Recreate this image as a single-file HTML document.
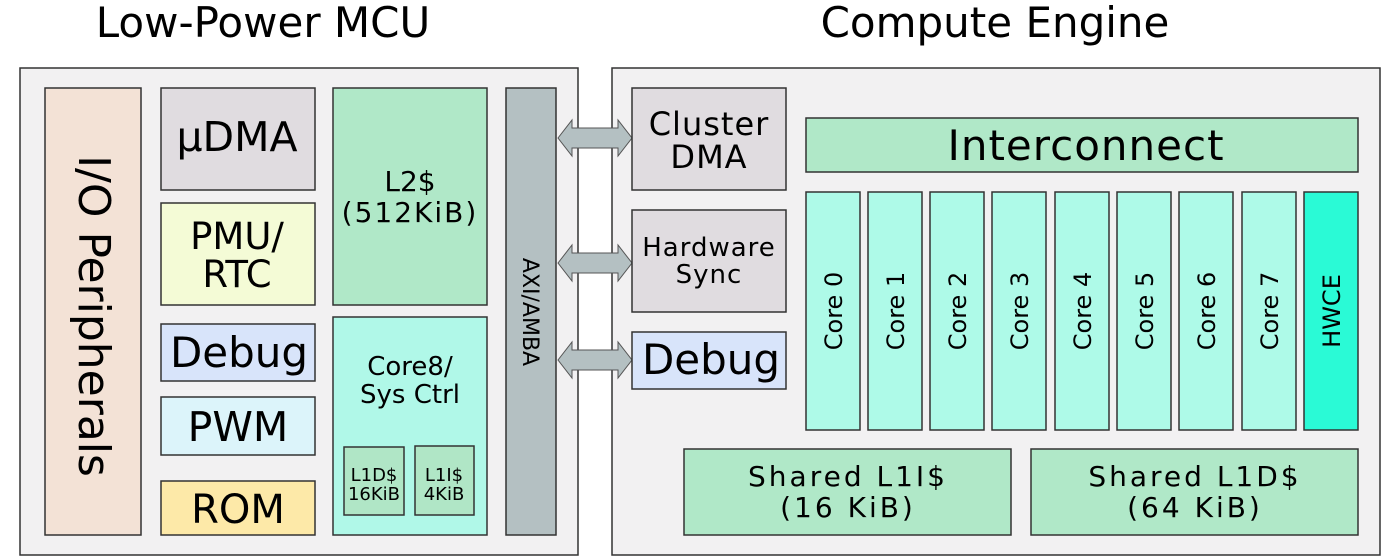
<!DOCTYPE html>
<html><head><meta charset="utf-8"><style>
body{margin:0;background:#fff}
svg{display:block}
text{font-family:"DejaVu Sans","Liberation Sans",sans-serif;fill:#000}
rect{stroke:#333;stroke-width:1.5}
</style></head><body>
<svg width="1400" height="559" viewBox="0 0 1400 559">
<text x="263" y="37" font-size="42" text-anchor="middle">Low-Power MCU</text>
<text x="995" y="37" font-size="42" text-anchor="middle">Compute Engine</text>
<rect x="20" y="68" width="558" height="487" fill="#f2f1f2"/>
<rect x="612" y="68" width="768" height="487" fill="#f2f1f2"/>
<!-- left -->
<rect x="45" y="88" width="96" height="447" fill="#f3e2d6"/>
<text transform="translate(79,316) rotate(90)" font-size="44" text-anchor="middle">I/O Peripherals</text>
<rect x="161" y="88" width="154" height="102" fill="#e0dce0"/>
<text x="237" y="151" font-size="41" text-anchor="middle">µDMA</text>
<rect x="161" y="203" width="154" height="102" fill="#f4fbd6"/>
<text x="237" y="249" font-size="37" text-anchor="middle">PMU/</text>
<text x="237" y="287" font-size="37" text-anchor="middle">RTC</text>
<rect x="161" y="324" width="154" height="57" fill="#d8e4fa"/>
<text x="239" y="367" font-size="42" text-anchor="middle">Debug</text>
<rect x="161" y="397" width="154" height="58" fill="#dcf4fa"/>
<text x="238" y="441" font-size="41" text-anchor="middle">PWM</text>
<rect x="161" y="481" width="154" height="54" fill="#fde9a8"/>
<text x="238" y="523" font-size="40" text-anchor="middle">ROM</text>
<rect x="333" y="88" width="154" height="217" fill="#b0e8c8"/>
<text x="410" y="191" font-size="28" text-anchor="middle">L2$</text>
<text x="410" y="222" font-size="28" text-anchor="middle" letter-spacing="2">(512KiB)</text>
<rect x="333" y="317" width="154" height="218" fill="#b0f8e8"/>
<text x="410" y="375" font-size="26" text-anchor="middle">Core8/</text>
<text x="410" y="403" font-size="26" text-anchor="middle">Sys Ctrl</text>
<rect x="344" y="447" width="60" height="68" fill="#b0e6c6" stroke-width="1"/>
<text x="374" y="481" font-size="18" text-anchor="middle">L1D$</text>
<text x="374" y="500" font-size="18" text-anchor="middle">16KiB</text>
<rect x="415" y="446" width="59" height="69" fill="#b0e6c6" stroke-width="1"/>
<text x="444" y="481" font-size="18" text-anchor="middle">L1I$</text>
<text x="444" y="500" font-size="18" text-anchor="middle">4KiB</text>
<rect x="506" y="88" width="50" height="447" fill="#b4c0c2"/>
<text transform="translate(523,312) rotate(90)" font-size="22" text-anchor="middle">AXI/AMBA</text>
<!-- arrows -->
<g fill="#b4c0c2" stroke="#555" stroke-width="1">
<path d="M558,138 L572,120 L572,128 L618,128 L618,120 L632,138 L618,156 L618,148 L572,148 L572,156 Z"/>
<path d="M558,263 L572,245 L572,253 L618,253 L618,245 L632,263 L618,281 L618,273 L572,273 L572,281 Z"/>
<path d="M558,360 L572,342 L572,350 L618,350 L618,342 L632,360 L618,378 L618,370 L572,370 L572,378 Z"/>
</g>
<!-- right -->
<rect x="632" y="88" width="154" height="102" fill="#e0dce0"/>
<text x="709" y="135" font-size="32" text-anchor="middle" letter-spacing="1">Cluster</text>
<text x="709" y="168" font-size="32" text-anchor="middle" letter-spacing="1">DMA</text>
<rect x="632" y="210" width="154" height="102" fill="#e0dce0"/>
<text x="709" y="256" font-size="26" text-anchor="middle" letter-spacing="1">Hardware</text>
<text x="709" y="283" font-size="26" text-anchor="middle" letter-spacing="1">Sync</text>
<rect x="632" y="332" width="154" height="57" fill="#d8e4fa"/>
<text x="711" y="374" font-size="42" text-anchor="middle">Debug</text>
<rect x="806" y="118" width="552" height="54" fill="#b0e8c8"/>
<text x="1086" y="160" font-size="42" text-anchor="middle" letter-spacing="1">Interconnect</text>
<g fill="#aefae8">
<rect x="806" y="192" width="54" height="238"/>
<rect x="868" y="192" width="54" height="238"/>
<rect x="930" y="192" width="54" height="238"/>
<rect x="992" y="192" width="54" height="238"/>
<rect x="1055" y="192" width="54" height="238"/>
<rect x="1117" y="192" width="54" height="238"/>
<rect x="1179" y="192" width="54" height="238"/>
<rect x="1242" y="192" width="54" height="238"/>
</g>
<rect x="1304" y="192" width="54" height="238" fill="#2afad6"/>
<g font-size="24" text-anchor="middle">
<text transform="translate(842,311) rotate(-90)">Core 0</text>
<text transform="translate(904,311) rotate(-90)">Core 1</text>
<text transform="translate(966,311) rotate(-90)">Core 2</text>
<text transform="translate(1028,311) rotate(-90)">Core 3</text>
<text transform="translate(1091,311) rotate(-90)">Core 4</text>
<text transform="translate(1153,311) rotate(-90)">Core 5</text>
<text transform="translate(1215,311) rotate(-90)">Core 6</text>
<text transform="translate(1278,311) rotate(-90)">Core 7</text>
<text transform="translate(1340,311) rotate(-90)">HWCE</text>
</g>
<rect x="684" y="449" width="327" height="86" fill="#b0e8c8"/>
<text x="848" y="486" font-size="28" text-anchor="middle" letter-spacing="3">Shared L1I$</text>
<text x="848" y="517" font-size="28" text-anchor="middle" letter-spacing="3">(16 KiB)</text>
<rect x="1031" y="449" width="327" height="86" fill="#b0e8c8"/>
<text x="1195" y="486" font-size="28" text-anchor="middle" letter-spacing="3">Shared L1D$</text>
<text x="1195" y="517" font-size="28" text-anchor="middle" letter-spacing="3">(64 KiB)</text>
</svg>
</body></html>
